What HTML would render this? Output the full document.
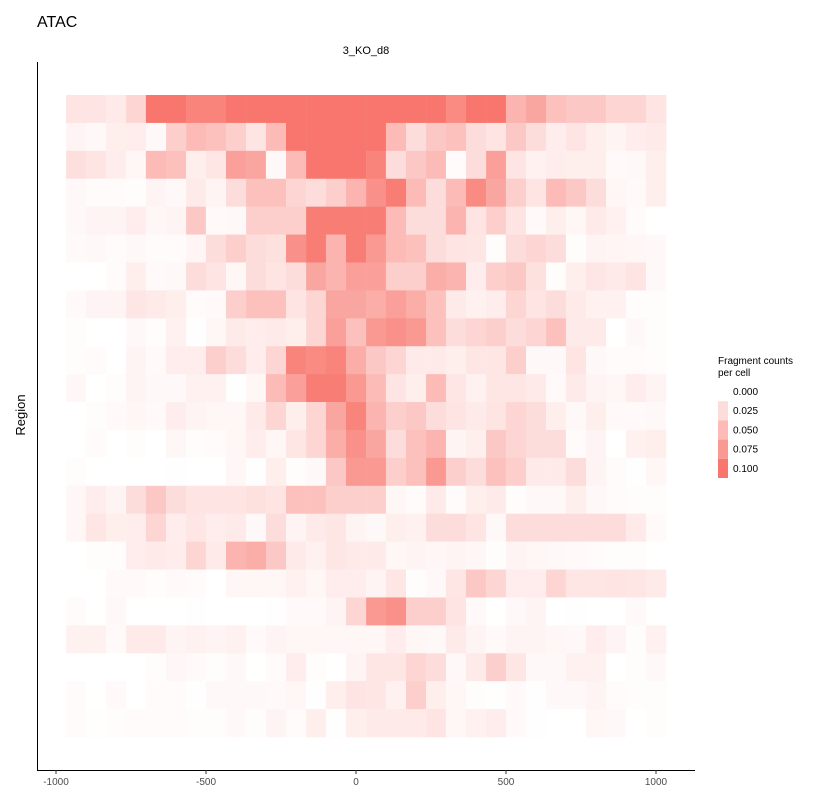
<!DOCTYPE html>
<html><head><meta charset="utf-8"><style>
body{margin:0;background:#fff;font-family:"Liberation Sans",sans-serif;}
</style></head><body>
<svg id="chart" width="818" height="803" xmlns="http://www.w3.org/2000/svg" font-family="Liberation Sans, sans-serif">
<text x="37" y="27" font-size="16">ATAC</text>
<text x="366" y="54" font-size="11" text-anchor="middle">3_KO_d8</text>
<g id="cells"></g>
<line x1="37.5" y1="62" x2="37.5" y2="770" stroke="#000" stroke-width="1"/>
<line x1="37" y1="770.5" x2="695" y2="770.5" stroke="#000" stroke-width="1"/>
<g id="xticks"></g>
<text transform="translate(25,415) rotate(-90)" font-size="13" text-anchor="middle">Region</text>
<g id="legend">
<text x="718" y="364" font-size="10">Fragment counts</text>
<text x="718" y="376" font-size="10">per cell</text>
</g>
</svg>
<script>
const xCenters=[-933,-867,-800,-733,-667,-600,-533,-467,-400,-333,-267,-200,-133,-67,0,67,133,200,267,333,400,467,533,600,667,733,800,867,933,1000];
const rowLevels=[
[2,2,1.5,3,10,10,9,9,10,10,10,10,10,10,10,10,10,10,10,8.5,10,10,5.5,6.5,4.5,4,4,3,3,2],
[0.8,0.5,1.2,1.3,0.5,3.5,5,4.5,3.5,2,5,10,10,10,10,10,5,2.5,4,4.5,2.5,2,4,2.5,1.3,2,1.2,0.8,1.3,1.5],
[2.3,2,1.3,0.6,5,4.5,1.2,1.8,7,6.5,0.5,5,10,10,10,9,2.5,4,5,0.3,2.5,7,2,1,1.3,1.2,1.2,0.4,0.5,1.2],
[0.5,0.3,0.3,0.2,0.8,0.5,1.5,0.8,2.5,4.5,4.5,3,2.5,3.5,5.5,8,9.5,5,2.5,5,8.5,6.5,3.5,2,5,4,2.5,0.6,0.4,1.2],
[0.5,0.8,0.8,1.3,0.6,0.8,4,0.4,0.5,3.5,3.5,3.5,9.5,9.5,9.5,9.5,5,2.5,2.5,5.5,2,3.5,2,0.4,1.2,0.6,1.5,1,0.3,0],
[0.4,0.5,0.3,0.5,0.3,0.3,0.7,2.5,3.5,2.5,2.2,8,9.5,5.5,9.5,7.5,5,4.5,2.5,2,1.8,0.2,2.5,3,2.5,0.2,0.8,0.7,0.6,0.5],
[0,0,0.3,1.2,0.4,0.5,2.5,2,0.6,2.5,2,2.5,6.5,5.5,7,7,3.5,3.5,6,5.5,1.3,3.5,4,2.2,0.2,1.2,1.8,1.5,2,0.5],
[0.4,0.8,0.8,1.8,1.5,1.2,0.3,0.4,3.5,4.5,4.5,2,3,6.5,6.5,6,7,6,4.5,1.5,1,1.3,3,2,2.5,1.5,1,1,0.2,0.2],
[0.2,0,0,0.5,0.2,1,0.1,0.6,1.5,1.3,1.5,1.2,3,7,4.5,7.5,8,7.5,4.5,2.5,3,3.5,2.5,3,4.5,1.5,1.5,0,0.5,0.2],
[0.2,0.3,0,0.8,0.4,1.3,1.3,3.5,2.5,1.3,3,9,8.5,9,6,4,3,1.5,1.5,1.2,1.8,1.8,3.5,0.5,0.5,2,0.5,0.3,0.3,0.2],
[0.6,0,0.2,0.8,0.5,0.5,1,1,0.1,0.6,5,7,9.5,9.5,7.5,5,2,1.2,5,1.8,1,1.8,1.8,1.5,0.4,1.5,0.8,0.6,1.3,0.8],
[0,0.2,0.4,0.6,0.4,1.3,0.8,0.6,0.6,1.5,3,1.2,3,6.5,9,5.5,3.5,4,2.5,2,1.5,2,3,2.5,1.2,0.5,1.2,0.4,0.4,0.5],
[0,0.3,0,0.2,0,0.6,0.2,0.3,0.6,1.3,0.6,1.8,3,6,8,6.5,2.5,4.5,5.5,0.8,1.2,4,3,2.5,2.5,0.3,0.8,0,1,1.2],
[0.2,0,0,0,0,0.1,0,0,0.6,0.1,1.2,0.2,0.5,4,7.5,7.5,3.5,4.5,7.5,3.5,2.5,4.5,3.5,1.5,1.5,2.5,0.8,0.3,0.1,0.6],
[0.6,1.3,0.8,2.5,4,2.5,2,2,2,2.2,2,4.5,4.5,3.5,3.5,3.5,0.6,0.3,1.5,0.3,1.2,1.5,0.2,0.5,0.5,1.2,0.5,0.3,0.2,0.2],
[0.6,1.8,1.2,1.3,3,1.3,1.8,1.3,1.5,0.5,2.5,0.8,1.5,1.8,0.8,0.5,1.2,1,2.5,2.5,2,0.5,2.5,2.5,2.5,2.5,2.5,2.5,1.5,0.4],
[0,0.2,0.2,1.3,1.5,1.3,3,1.5,5.5,6,4,1.5,1,1.8,1.5,1.5,0.6,0.8,0.6,0.8,0.6,0.2,0.8,0.6,0.5,0.4,0.3,0.2,0.2,0],
[0,0,0.4,0.4,0.2,0.4,0.3,0,0.6,0.6,0.6,1,0.6,1.3,1.3,0.8,1.8,0.2,0.5,1.8,4,3,1.3,1.3,3,1.8,1.8,2,1.8,1.5],
[0.3,0,0.5,0,0,0,0.1,0,0,0,0.1,0.4,0.4,0.8,3,7.5,8,3.5,3.5,2,0.4,0,0.5,0.8,0,0.1,0,0,0.4,0],
[1,1,0.4,1.5,1.5,0.8,1,0.8,1,0.4,0.8,0.6,0.6,0.6,0.6,0.6,1.3,0.6,0.5,1.5,0.8,0.4,0.8,0.8,0.6,0.5,1.3,0.8,0.2,1],
[0,0,0,0,0.2,0.6,0.4,0.2,0.5,0,0.3,1.3,0.2,0,0.8,1.8,1.8,3,2.5,0.5,1.5,3.5,1.8,0.5,0.5,1,1,0,0.2,0.5],
[0.3,0,0.4,0,0.3,0.3,0.1,0.5,0.5,0.5,0.4,0.6,0.1,1.2,2,1.8,1,3.5,1.2,0.6,0.2,0.1,0.4,0.1,0.5,0.5,0.8,0.3,0.2,0.2],
[0.3,0.1,0.2,0.3,0.3,0.3,0.2,0.2,0.5,0.2,0.8,0.3,1.2,0.1,1.2,1.5,1.5,1.5,2,0.6,1,1.3,0.4,0.1,0,0,0.6,0.5,0,0.2]
];
const xTickValues=[-1000,-500,0,500,1000];
const xTickLabels=["-1000","-500","0","500","1000"];
const legendValues=[0,0.025,0.05,0.075,0.1];
const legendLabels=["0.000","0.025","0.050","0.075","0.100"];

const NS="http://www.w3.org/2000/svg";
const binWidth=66.67;
function xScale(v){return 356+v*0.3;}
const yTop=95,yBottom=737;
function yScale(i){return yTop+i*(yBottom-yTop)/rowLevels.length;}
const rowH=(yBottom-yTop)/rowLevels.length;
function color(v){const t=Math.max(0,Math.min(1,v/0.1));
 const r=Math.round(255+(248-255)*t),g=Math.round(255+(118-255)*t),b=Math.round(255+(109-255)*t);
 return `rgb(${r},${g},${b})`;}
const cells=document.getElementById('cells');
rowLevels.forEach((row,i)=>{row.forEach((lv,j)=>{
 const v=lv/100;
 const r=document.createElementNS(NS,'rect');
 
 
 const x0=xScale(xCenters[j]-binWidth/2),x1=xScale(xCenters[j]+binWidth/2);
 r.setAttribute('x',x0);r.setAttribute('y',yScale(i));
 r.setAttribute('width',x1-x0+0.3);r.setAttribute('height',rowH+0.3);
 r.setAttribute('fill',color(v));
 cells.appendChild(r);
});});
const xt=document.getElementById('xticks');
xTickValues.forEach((v,k)=>{
 const x=xScale(v);
 const l=document.createElementNS(NS,'line');
 
 
 l.setAttribute('x1',x);l.setAttribute('x2',x);l.setAttribute('y1',770);l.setAttribute('y2',774);
 l.setAttribute('stroke','#333');xt.appendChild(l);
 const t=document.createElementNS(NS,'text');
 
 
 t.setAttribute('x',x);t.setAttribute('y',785);t.setAttribute('font-size','10');
 t.setAttribute('text-anchor','middle');t.setAttribute('fill','#4d4d4d');
 t.textContent=xTickLabels[k];xt.appendChild(t);
});
const lg=document.getElementById('legend');
legendValues.forEach((v,k)=>{
 const y=382+k*19.2;
 const r=document.createElementNS(NS,'rect');
 
 
 r.setAttribute('x',718);r.setAttribute('y',y);r.setAttribute('width',10);r.setAttribute('height',19.2);
 r.setAttribute('fill',color(v));lg.appendChild(r);
 const t=document.createElementNS(NS,'text');
 
 
 t.setAttribute('x',733);t.setAttribute('y',y+13);t.setAttribute('font-size','10');
 t.textContent=legendLabels[k];lg.appendChild(t);
});
</script>
</body></html>
